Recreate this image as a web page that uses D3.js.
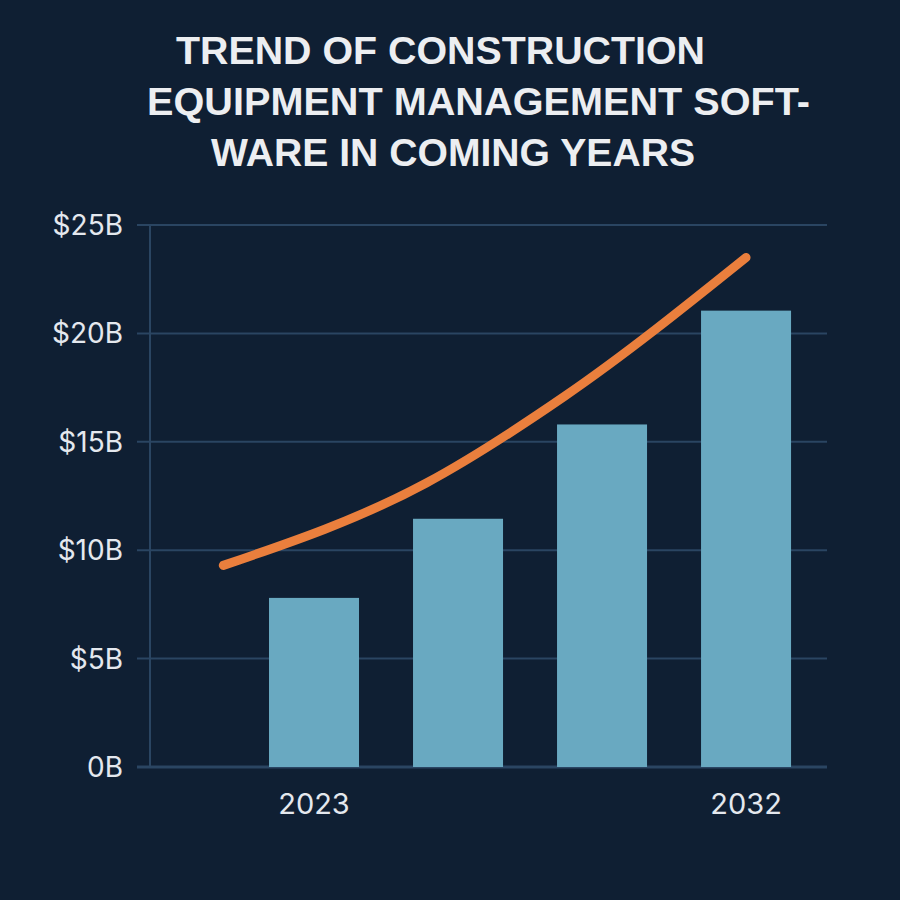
<!DOCTYPE html>
<html>
<head>
<meta charset="utf-8">
<script src="https://cdn.jsdelivr.net/npm/d3@7"></script>
<style>
  html, body { margin: 0; padding: 0; background: #0f1f33; }
  svg { display: block; }
</style>
</head>
<body>
<div id="chart"></div>
<script>
// data
const titleLines = ["TREND OF CONSTRUCTION", "EQUIPMENT MANAGEMENT SOFT-", "WARE IN COMING YEARS"];
const barLabels = ["2023", "", "", "2032"];
const barValues = [7.8, 11.45, 15.8, 21.05];          // $B
const linePos = [-0.63, 0.78, 1.74, 3.0];             // position along the bar slots
const lineValues = [9.3, 13.1, 17.1, 23.5];           // $B
const yTicks = [0, 5, 10, 15, 20, 25];

const width = 900;
const height = 900;

const svg = d3.select("#chart")
  .append("svg")
  .attr("width", width)
  .attr("height", height);

svg.append("rect")
  .attr("width", width)
  .attr("height", height)
  .attr("fill", "#0f1f33");

// title, each line placed like the original (not centred)
const titleX = [176, 147, 211];
const titleW = [529, 663, 484];
const titleY = [64, 115, 166];
svg.selectAll("text.title")
  .data(titleLines)
  .join("text")
  .attr("class", "title")
  .attr("x", (d, i) => titleX[i])
  .attr("y", (d, i) => titleY[i])
  .attr("textLength", (d, i) => titleW[i])
  .attr("lengthAdjust", "spacingAndGlyphs")
  .attr("fill", "#eceef1")
  .attr("font-family", "'Liberation Sans', Arial, sans-serif")
  .attr("font-weight", "bold")
  .attr("font-size", 38)
  .text(d => d);

const plotLeft = 150, plotRight = 827, plotTop = 225, plotBottom = 767;

const y = d3.scaleLinear()
  .domain([0, 25])
  .range([plotBottom, plotTop]);

const x = d3.scaleBand()
  .domain(d3.range(barValues.length))
  .range([plotLeft, plotRight])
  .paddingInner(0.375)
  .paddingOuter(0.538)
  .align(0.768);

// slot index -> pixel centre, used for the trend line
const xPos = d3.scaleLinear()
  .domain([0, barValues.length - 1])
  .range([x(0) + x.bandwidth() / 2, x(barValues.length - 1) + x.bandwidth() / 2]);

// gridlines
svg.append("g")
  .selectAll("line")
  .data(yTicks)
  .join("line")
  .attr("x1", 137)
  .attr("x2", plotRight)
  .attr("y1", d => y(d))
  .attr("y2", d => y(d))
  .attr("stroke", "#2a4562")
  .attr("stroke-width", d => d === 0 ? 3 : 2);

// y axis line
svg.append("line")
  .attr("x1", plotLeft)
  .attr("x2", plotLeft)
  .attr("y1", y(25))
  .attr("y2", y(0))
  .attr("stroke", "#2a4562")
  .attr("stroke-width", 2);

// y tick labels
svg.append("g")
  .selectAll("text")
  .data(yTicks)
  .join("text")
  .attr("x", 123)
  .attr("y", d => y(d))
  .attr("dy", "0.36em")
  .attr("text-anchor", "end")
  .attr("fill", "#e4e8ee")
  .attr("font-family", "Inter, 'Liberation Sans', sans-serif")
  .attr("font-size", 28)
  .text(d => d === 0 ? "0B" : `$${d}B`);

// bars
svg.append("g")
  .selectAll("rect")
  .data(barValues)
  .join("rect")
  .attr("x", (d, i) => x(i))
  .attr("y", d => y(d))
  .attr("width", x.bandwidth())
  .attr("height", d => y(0) - y(d))
  .attr("fill", "#69a9c1");

// x labels
svg.append("g")
  .selectAll("text")
  .data(barLabels)
  .join("text")
  .attr("x", (d, i) => x(i) + x.bandwidth() / 2)
  .attr("y", 814)
  .attr("text-anchor", "middle")
  .attr("fill", "#e4e8ee")
  .attr("font-family", "Inter, 'Liberation Sans', sans-serif")
  .attr("font-size", 29)
  .text(d => d);

// trend line
const line = d3.line()
  .x((d, i) => xPos(linePos[i]))
  .y(d => y(d))
  .curve(d3.curveMonotoneX);

svg.append("path")
  .datum(lineValues)
  .attr("d", line)
  .attr("fill", "none")
  .attr("stroke", "#ea7f3d")
  .attr("stroke-width", 9)
  .attr("stroke-linecap", "round")
  .attr("stroke-linejoin", "round");
</script>
</body>
</html>
